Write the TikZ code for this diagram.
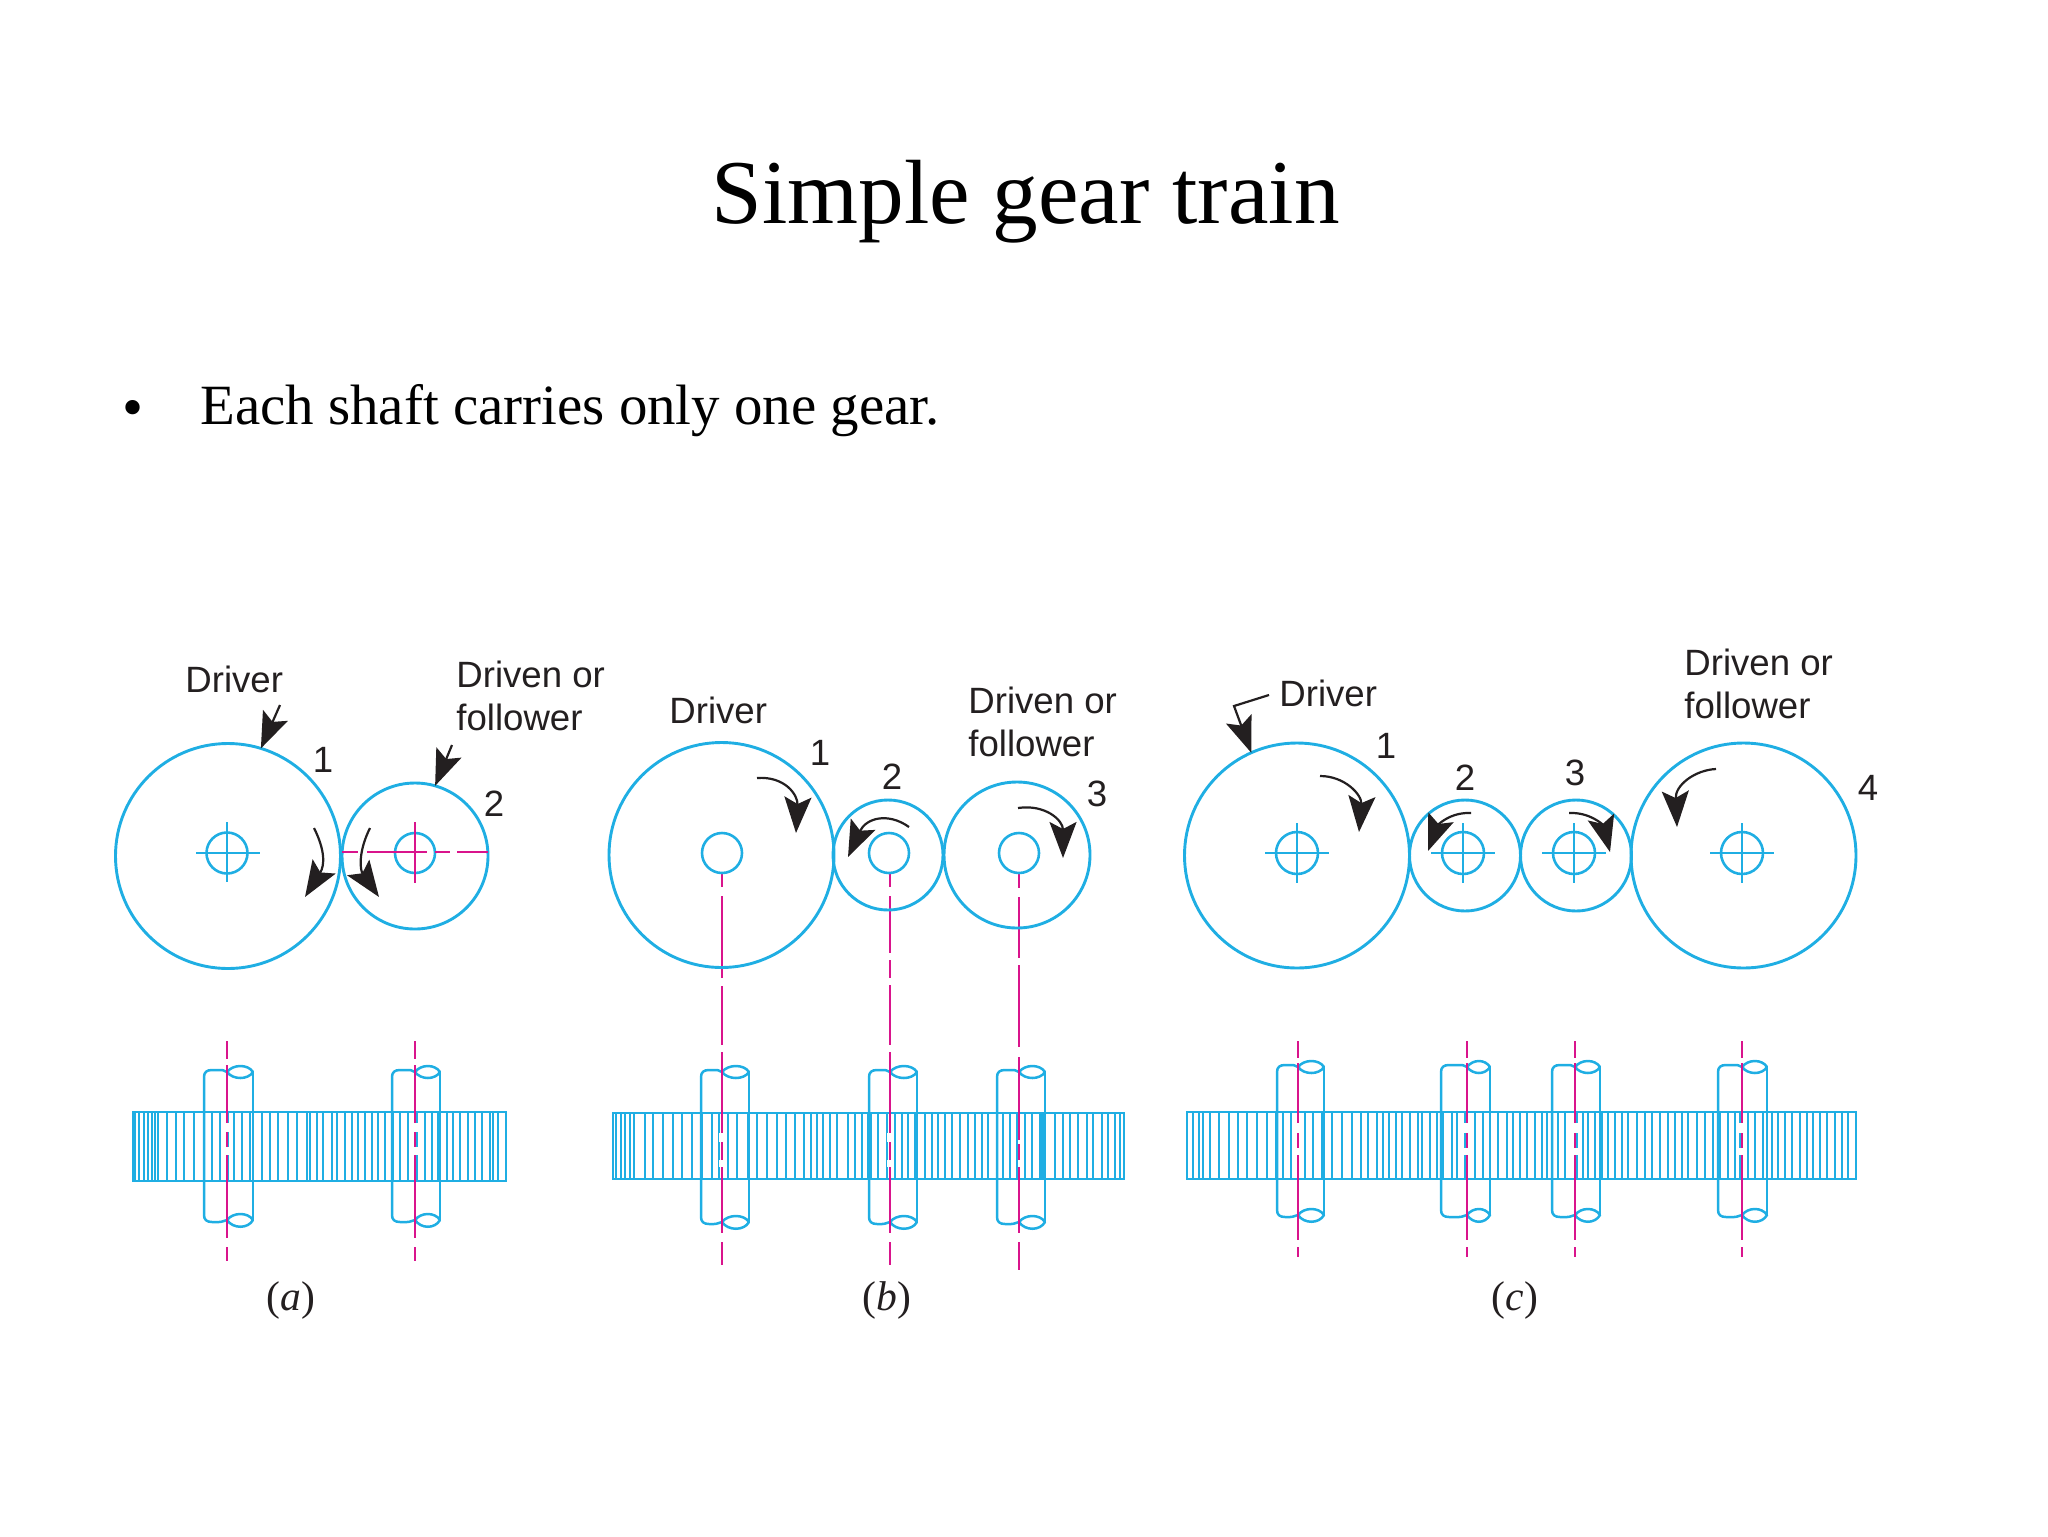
\documentclass[tikz,border=0pt]{standalone}
\usepackage{fontspec}
\setmainfont{Liberation Serif}
\newfontfamily\labelfont{Liberation Sans}
\usetikzlibrary{arrows.meta}
\definecolor{gearcyan}{HTML}{1FAEE3}
\definecolor{axismag}{HTML}{D9148C}
\definecolor{inkblack}{HTML}{231F20}
\tikzset{
  gear/.style={circle,draw=gearcyan,line width=1.45pt,inner sep=0pt,outer sep=0pt},
  hub/.style={gear,line width=1.3pt},
  tooth/.style={draw=gearcyan,line width=1pt},
  rim/.style={draw=gearcyan,line width=1.35pt},
  shaftline/.style={draw=gearcyan,line width=1.25pt,line join=round},
  centre/.style={draw=axismag,line width=1.15pt},
  crossline/.style={draw=gearcyan,line width=1.25pt},
  spin/.style={draw=inkblack,line width=1.1pt,-{Stealth[length=18pt,width=13.5pt,inset=3.5pt]}},
  lab/.style={font=\labelfont\fontsize{18.3}{20}\selectfont,text=inkblack,anchor=base west,inner sep=0pt},
  num/.style={font=\labelfont\fontsize{18.3}{20}\selectfont,text=inkblack,anchor=center,inner sep=0pt},
  panelcap/.style={font=\fontsize{20.8}{22}\selectfont,text=inkblack,anchor=base,inner sep=0pt}
}
% shaft outline: left edge, axis, right edge, top, bottom
\newcommand\shaftdraw[5]{
  \draw[shaftline] ({#3},{#4+2}) -- ({#3},{#5});
  \draw[shaftline] ({#2},{#4+2}) .. controls ({#2-3},{#4}) and ({#2-5},{#4}) .. ({#2-8},{#4})
    -- ({#1+8},{#4}) .. controls ({#1+3},{#4}) and ({#1},{#4+2}) .. ({#1},{#4+7})
    -- ({#1},{#5-5}) .. controls ({#1},{#5}) and ({#1+3},{#5+2}) .. ({#1+8},{#5+2})
    -- ({#2-8},{#5+2}) .. controls ({#2-4},{#5+2}) and ({#2-2},{#5}) .. ({#2},{#5});
  \draw[shaftline] ({#2},{#4+2}) .. controls ({#2+6},{#4-6}) and ({#3-5},{#4-6}) .. ({#3},{#4+2})
    .. controls ({#3-5},{#4+10}) and ({#2+6},{#4+10}) .. cycle;
  \draw[shaftline] ({#2},{#5}) .. controls ({#2+6},{#5-8}) and ({#3-5},{#5-8}) .. ({#3},{#5})
    .. controls ({#3-5},{#5+9}) and ({#2+6},{#5+9}) .. cycle;
}
\newcommand\axisdraw[2]{\foreach \ya/\yb in {#2}{\draw[centre] (#1,\ya) -- (#1,\yb);}}
\newcommand\wipe[3]{\fill[white] ({#1-3.5},#2) rectangle ({#1+3.5},#3);}
\begin{document}
\begin{tikzpicture}[x=.5pt,y=-.5pt]
\useasboundingbox (0,0) rectangle (2048,1536);

% headings
\node[anchor=base west,inner sep=0pt,font=\fontsize{45.6}{50}\selectfont] (title) at (711,223) {Simple gear train};
\node[anchor=center,inner sep=0pt,font=\fontsize{30}{32}\selectfont] (bullet) at (133,414) {•};
\node[anchor=base west,inner sep=0pt,font=\fontsize{28.45}{32}\selectfont] (body) at (200,424) {Each shaft carries only one gear.};

% panel a, side view
\foreach \z in {75,88,103,115,125,135,145,170,197,222,252,282,305,330,355,372,395,420,430,455,480,505,535,560,590,600,620,640,665,680,705,725,745,765,785,805,825,850,870,895,920,945,965,985,1010,1030,1050,1075,1095,1115,1140,1150,1165}
  \draw[tooth] ({110+\z/3},1112) -- ({110+\z/3},1181);
\draw[rim] (133,1112) rectangle (506,1181);
\shaftdraw{204}{227}{253}{1070}{1220}
\shaftdraw{392}{415}{440}{1070}{1220}
\wipe{227}{1123}{1132}\wipe{227}{1147}{1155}
\wipe{415}{1123}{1132}\wipe{415}{1147}{1155}
\axisdraw{227}{1041/1059,1065/1123,1132/1147,1155/1238,1247/1261}
\axisdraw{415}{1041/1059,1065/1123,1132/1147,1155/1238,1247/1261}

% panel a, front view
\node[gear,minimum size=112.5pt] (a1) at (228,856) {};
\node[gear,minimum size=73pt] (a2) at (415,856) {};
\node[hub,minimum size=20.5pt] (ah1) at (227,853) {};
\node[hub,minimum size=20pt] (ah2) at (415,853) {};
\draw[crossline] (196,853) -- (260,853);
\draw[crossline] (227,822) -- (227,882);
\axisdraw{415}{822/883}
\foreach \xa/\xb in {342/358,367/427,435/450,457/488}
  \draw[centre] (\xa,852) -- (\xb,852);
\coordinate (a1lead) at (280,705);
\coordinate (a2lead) at (452,745);
\draw[spin] (a1lead) -- (a1.73);
\draw[spin] (a2lead) -- (a2.74);
\draw[spin] (314,828) .. controls (325,850) and (325,865) .. (305,897);
\draw[spin] (370,828) .. controls (358,852) and (360,870) .. (379,897);
\node[lab] (adriver) at (185,692) {Driver};
\node[lab] (adriven) at (456,687) {Driven or};
\node[lab] (afollow) at (456,730) {follower};
\node[num] (an1) at (323,760) {1};
\node[num] (an2) at (494,804) {2};
\node[panelcap] (capa) at (291,1310) {(\textit{a})};

% panel b, side view
\foreach \z in {48,62,75,90,103,135,160,190,218,245,275,305,335,358,385,412,443,470,500,530,558,585,612,632,650,670,690,712,745,765,785,805,812,835,860,885,905,925,945,950,975,995,1015,1035,1055,1080,1105,1125,1145,1165,1190,1210,1230,1250,1275,1295,1320,1325,1330,1335,1365,1390,1410,1435,1460,1480,1505,1525,1545,1560}
  \draw[tooth] ({600+\z/3},1113) -- ({600+\z/3},1179);
\draw[rim] (613,1113) rectangle (1124,1179);
\shaftdraw{701}{722}{749}{1070}{1222}
\shaftdraw{869}{890}{917}{1070}{1222}
\shaftdraw{997}{1019}{1045}{1070}{1222}
\wipe{722}{1133}{1142}\wipe{722}{1160}{1167}
\wipe{890}{1133}{1142}\wipe{890}{1160}{1167}
\axisdraw{722}{872/887,896/978,986/1045,1052/1133,1142/1160,1167/1233,1242/1265}
\axisdraw{890}{872/887,896/953,960/978,985/1045,1052/1133,1142/1160,1167/1233,1242/1265}
\axisdraw{1019}{873/888,897/958,965/1047,1057/1140,1144/1160,1167/1233,1242/1270}

% panel b, front view
\node[gear,minimum size=112.5pt] (b1) at (721.5,855) {};
\node[gear,minimum size=55pt] (b2) at (888,855) {};
\node[gear,minimum size=73pt] (b3) at (1017,855) {};
\node[hub,minimum size=20pt] (bh1) at (722,853) {};
\node[hub,minimum size=20pt] (bh2) at (889,853) {};
\node[hub,minimum size=20pt] (bh3) at (1019,853) {};
\draw[spin] (757,778) .. controls (785,776) and (798,795) .. (796,833);
\draw[spin] (909,827) .. controls (888,812) and (866,818) .. (848,857);
\draw[spin] (1018,808) .. controls (1045,804) and (1063,820) .. (1063,858);
\node[lab] (bdriver) at (669,723) {Driver};
\node[lab] (bdriven) at (968,713) {Driven or};
\node[lab] (bfollow) at (968,756) {follower};
\node[num] (bn1) at (820,753) {1};
\node[num] (bn2) at (892,777) {2};
\node[num] (bn3) at (1097,794) {3};
\node[panelcap] (capb) at (887,1310) {(\textit{b})};

% panel c, side view
\foreach \z in {70,88,100,120,148,178,205,232,262,290,318,340,362,405,430,455,462,485,515,545,572,595,620,640,658,678,695,720,745,755,780,800,820,845,860,885,915,940,960,985,1010,1030,1050,1070,1095,1115,1130,1145,1165,1185,1220,1240,1255,1275,1295,1315,1335,1355,1375,1400,1425,1445,1470,1495}
  \draw[tooth] ({1170+\z/3},1112) -- ({1170+\z/3},1179);
\foreach \z in {465,485,505,530,555,578,600,625,645,660,685,705,730,755,775,795,815,840,860,880,900,920,945,965,985}
  \draw[tooth] ({1520+\z/3},1112) -- ({1520+\z/3},1179);
\draw[rim] (1187,1112) rectangle (1856,1179);
\shaftdraw{1277}{1298}{1324}{1065}{1215}
\shaftdraw{1441}{1467}{1490}{1065}{1215}
\shaftdraw{1552}{1575}{1600}{1065}{1215}
\shaftdraw{1718}{1742}{1767}{1065}{1215}
\foreach \xc in {1298,1467,1575,1742}{
  \wipe{\xc}{1123}{1133}\wipe{\xc}{1148}{1155}
  \axisdraw{\xc}{1041/1058,1063/1123,1133/1148,1155/1240,1247/1257}
}

% panel c, front view
\node[gear,minimum size=112.5pt] (c1) at (1297,855.5) {};
\node[gear,minimum size=55.5pt] (c2) at (1465,855.5) {};
\node[gear,minimum size=55.5pt] (c3) at (1576,855.5) {};
\node[gear,minimum size=112.5pt] (c4) at (1743.5,855.5) {};
\node[hub,minimum size=21pt] (ch1) at (1297,853) {};
\node[hub,minimum size=21pt] (ch2) at (1463,853) {};
\node[hub,minimum size=21pt] (ch3) at (1574,853) {};
\node[hub,minimum size=21pt] (ch4) at (1742,853) {};
\foreach \xc in {1297,1463,1574,1742}{
  \draw[crossline] ({\xc-32},853) -- ({\xc+32},853);
  \draw[crossline] (\xc,823) -- (\xc,883);
}
\coordinate (c1leada) at (1269,695);
\coordinate (c1leadb) at (1234,706);
\draw[spin] (c1leada) -- (c1leadb) -- (c1.114);
\draw[spin] (1320,776) .. controls (1345,776) and (1362,795) .. (1359,832);
\draw[spin] (1471,813) .. controls (1450,812) and (1438,825) .. (1428,851);
\draw[spin] (1569,813) .. controls (1590,812) and (1603,825) .. (1610,852);
\draw[spin] (1716,769) .. controls (1695,770) and (1675,785) .. (1677,827);
\node[lab] (cdriver) at (1279,706) {Driver};
\node[lab] (cdriven) at (1684,675) {Driven or};
\node[lab] (cfollow) at (1684,718) {follower};
\node[num] (cn1) at (1386,746) {1};
\node[num] (cn2) at (1465,778) {2};
\node[num] (cn3) at (1575,773) {3};
\node[num] (cn4) at (1868,788) {4};
\node[panelcap] (capc) at (1515,1310) {(\textit{c})};
\end{tikzpicture}
\end{document}
